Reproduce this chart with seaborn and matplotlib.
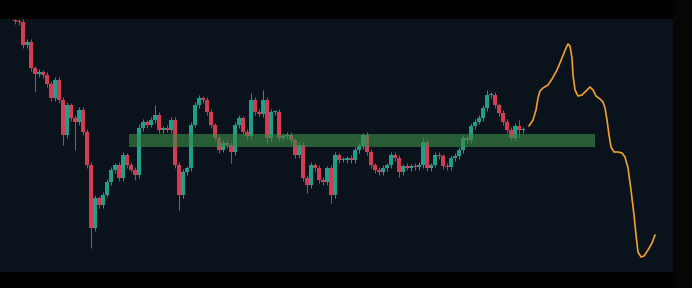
import matplotlib
matplotlib.use("Agg")
import matplotlib.pyplot as plt
import seaborn as sns
import numpy as np
import pandas as pd

# ---------------- data (price units, arbitrary) ----------------
candle_start = 15
candle_step = 4
first_open = 252
closes = [
    251, 250, 227, 230, 204, 198, 200, 197, 188, 174, 192, 172, 137, 167, 154, 150,
    162, 140, 107, 44, 74, 67, 77, 90, 102, 107, 94, 117, 107, 102, 97, 144,
    150, 147, 152, 157, 142, 144, 142, 152, 107, 77, 100, 104, 147, 167, 174, 172,
    160, 147, 134, 122, 129, 127, 120, 147, 154, 140, 136, 172, 160, 158, 172, 134,
    160, 160, 134, 136, 137, 132, 117, 127, 94, 87, 107, 104, 92, 90, 104, 77,
    117, 112, 112, 114, 112, 122, 126, 137, 120, 107, 102, 100, 104, 107, 117, 114,
    100, 106, 104, 106, 105, 107, 130, 104, 107, 117, 116, 106, 105, 114, 116, 122,
    134, 132, 146, 150, 154, 164, 177, 177, 167, 159, 150, 142, 134, 146, 142, 142,
]
wick_hi = [
    1, 2, 3, 3, 3, 2, 3, 2, 3, 3, 3, 3, 3, 3, 2, 3,
    3, 3, 3, 3, 3, 2, 3, 3, 3, 2, 3, 3, 2, 3, 3, 4,
    3, 2, 3, 10, 3, 2, 3, 3, 3, 3, 3, 2, 3, 3, 3, 2,
    3, 3, 2, 3, 3, 2, 3, 3, 3, 2, 3, 7, 3, 3, 10, 3,
    3, 2, 3, 2, 3, 3, 2, 3, 3, 3, 3, 2, 3, 3, 2, 3,
    3, 2, 3, 2, 3, 3, 3, 2, 3, 3, 2, 3, 3, 2, 3, 3,
    3, 2, 3, 2, 3, 3, 5, 3, 2, 3, 3, 2, 3, 3, 3, 3,
    3, 2, 3, 3, 3, 3, 5, 3, 3, 2, 3, 3, 3, 3, 6, 3,
]
wick_lo = [
    3, 3, 3, 3, 3, 18, 3, 3, 3, 3, 3, 3, 10, 3, 3, 28,
    3, 3, 3, 20, 3, 3, 3, 2, 3, 3, 3, 3, 3, 2, 5, 3,
    3, 3, 2, 3, 3, 3, 2, 3, 3, 15, 3, 3, 3, 2, 3, 3,
    3, 3, 3, 3, 2, 3, 11, 3, 3, 3, 3, 3, 3, 2, 3, 5,
    3, 3, 3, 2, 3, 3, 3, 3, 3, 8, 3, 3, 3, 3, 3, 8,
    3, 3, 2, 3, 3, 3, 3, 3, 3, 3, 3, 3, 3, 3, 3, 3,
    5, 3, 2, 3, 3, 3, 3, 3, 3, 2, 3, 3, 3, 3, 3, 3,
    3, 3, 3, 3, 2, 3, 3, 3, 3, 3, 3, 3, 3, 3, 7, 3,
]

# projected (hand-drawn) path
proj_x = [529, 533, 536, 538, 540, 543, 548, 552, 557, 562, 566, 568, 570, 572, 573,
          575, 578, 582, 586, 590, 593, 596, 600, 603, 605, 607, 609, 611, 614, 618,
          622, 625, 628, 631, 634, 636, 638, 641, 644, 648, 652, 655]
proj_y = [146, 152, 162, 174, 181, 184, 187, 193, 202, 214, 224, 228, 226, 214, 197,
          182, 176, 177, 181, 185, 182, 176, 173, 170, 164, 152, 137, 125, 120, 120,
          119, 115, 104, 82, 57, 37, 20, 15, 16, 22, 29, 37]

# support zone
zone_x = [129, 595]
zone_y = [125, 138]

# ---------------- figure ----------------
sns.set_theme(style="dark")
W, H = 692, 288
fig = plt.figure(figsize=(W / 100, H / 100), dpi=100, facecolor="#000000")
panel_bg = "#0a131c"
ax = fig.add_axes([0, 16 / H, 673 / W, 253 / H])
ax.set_facecolor(panel_bg)

# right dark strip
fig.patches.append(plt.Rectangle((673 / W, 0), 19 / W, 1, transform=fig.transFigure,
                                 color="#060606", zorder=0))

n = len(closes)
xs = np.array([candle_start + candle_step * i for i in range(n)], dtype=float)
c = np.array(closes, dtype=float)
o = np.concatenate([[first_open], c[:-1]])
hi = np.maximum(o, c) + np.array(wick_hi)
lo = np.minimum(o, c) - np.array(wick_lo)
up = c >= o
col_up, col_dn = "#1f9e8c", "#d63a52"
colors = np.where(up, col_up, col_dn)

ax.vlines(xs, lo, hi, colors=colors, linewidth=0.7, zorder=2)
bottoms = np.minimum(o, c)
heights = np.maximum(np.abs(c - o), 1.0)
ax.bar(xs, heights, bottom=bottoms, width=3.2, color=colors, linewidth=0, zorder=3)

# zone
ax.fill_between(zone_x, zone_y[0], zone_y[1], color="#3b8a46", alpha=0.62,
                linewidth=0, zorder=4)

# projection line
df = pd.DataFrame({"x": proj_x, "y": proj_y})
sns.lineplot(data=df, x="x", y="y", ax=ax, color="#f0a02c", linewidth=1.2,
             sort=False, estimator=None, zorder=5)

ax.set_xlim(0, 673)
ax.set_ylim(0, 253)
ax.set_xticks([])
ax.set_yticks([])
ax.set_xlabel("")
ax.set_ylabel("")
for s in ax.spines.values():
    s.set_visible(False)

fig.savefig("out.png", dpi=100, facecolor=fig.get_facecolor())
